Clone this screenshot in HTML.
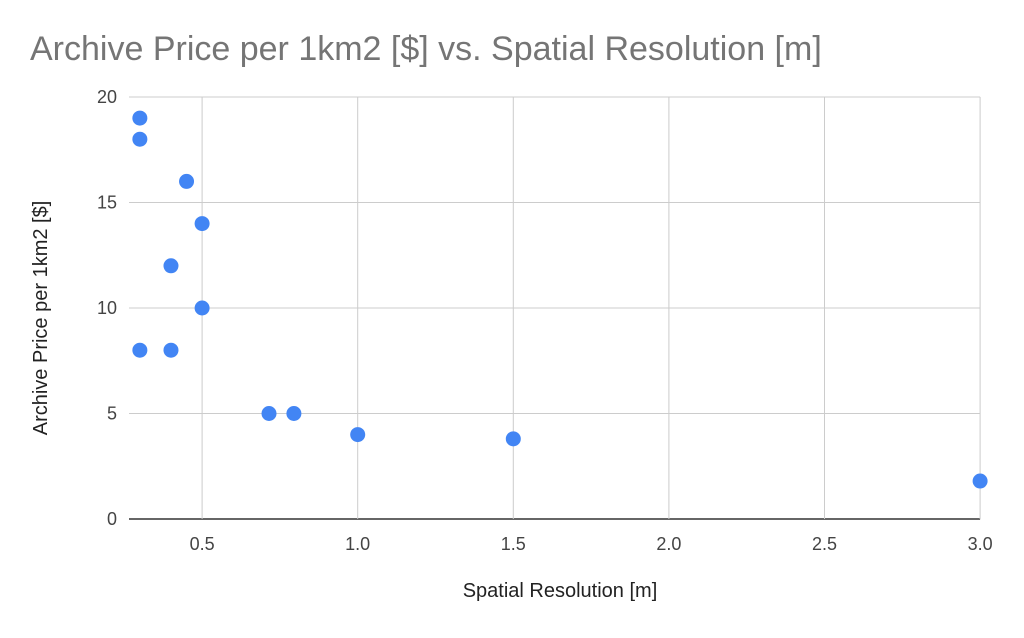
<!DOCTYPE html>
<html><head><meta charset="utf-8"><style>
body{margin:0;background:#fff;}
svg text{font-family:"Liberation Sans",Arial,sans-serif;}
</style></head><body>
<svg width="1024" height="633" viewBox="0 0 1024 633">
<rect width="1024" height="633" fill="#fff"/>
<text x="30" y="60" font-size="34" fill="#757575">Archive Price per 1km2 [$] vs. Spatial Resolution [m]</text>
<g id="grid"></g><g id="pts"></g>
<text x="560" y="597" font-size="20" fill="#222" text-anchor="middle">Spatial Resolution [m]</text>
<text transform="translate(47,318) rotate(-90)" font-size="20" fill="#222" text-anchor="middle">Archive Price per 1km2 [$]</text>
</svg>
<script>
const xs=[0.3,0.3,0.45,0.5,0.4,0.5,0.3,0.4,0.715,0.795,1.0,1.5,3.0];
const ys=[19,18,16,14,12,10,8,8,5,5,4,3.8,1.8];
const xTicks=[0.5,1.0,1.5,2.0,2.5,3.0];
const yTicks=[0,5,10,15,20];
const X=v=>46.5+v*311.2, Y=v=>519-v*21.1;
const NS="http://www.w3.org/2000/svg";
const g=document.getElementById('grid'),p=document.getElementById('pts');
function mk(t,a,par){const e=document.createElementNS(NS,t);for(const k in a)e.setAttribute(k,a[k]);par.appendChild(e);return e;}
const x0=129,x1=X(3.0);
yTicks.forEach(v=>{
 const l=mk('line',{x1:x0,x2:x1,y1:Y(v),y2:Y(v),stroke:v===0?'#333':'#ccc','stroke-width':v===0?1.5:1},g);
 
 
 const t=mk('text',{x:117,y:Y(v)+6,'font-size':18,fill:'#444','text-anchor':'end'},g);t.textContent=v;
 
 
});
xTicks.forEach(v=>{
 const l=mk('line',{x1:X(v),x2:X(v),y1:Y(20),y2:Y(0),stroke:'#ccc'},g);
 
 
 const t=mk('text',{x:X(v),y:550,'font-size':18,fill:'#444','text-anchor':'middle'},g);t.textContent=v.toFixed(1);
 
 
});
xs.forEach((v,i)=>{
 const c=mk('circle',{cx:X(v),cy:Y(ys[i]),r:7.5,fill:'#4285f4'},p);
 
 
});
</script>
</body></html>
